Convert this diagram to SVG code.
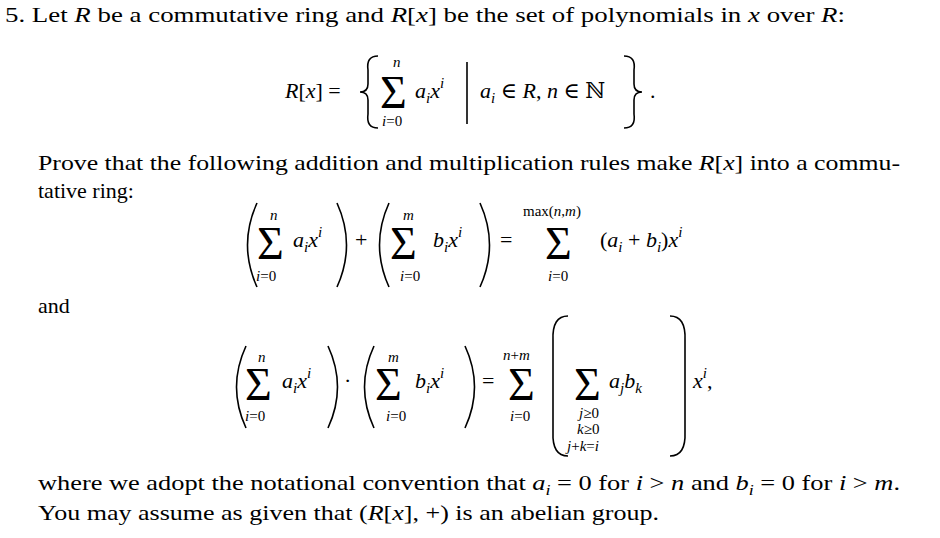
<svg xmlns="http://www.w3.org/2000/svg" width="940" height="538" viewBox="0 0 940 538">
<style>
text{font-family:"Liberation Serif","DejaVu Serif",serif;fill:#000;font-size:22px}
.i{font-style:italic}
.s{font-size:15px}
text.sg{font-size:46px}
.p{fill:none;stroke:#000;stroke-width:1.6}
</style>
<rect width="940" height="538" fill="#fff"/>
<text x="5" y="22" textLength="840" lengthAdjust="spacingAndGlyphs">5. Let <tspan class="i">R</tspan> be a commutative ring and <tspan class="i">R</tspan>[<tspan class="i">x</tspan>] be the set of polynomials in <tspan class="i">x</tspan> over <tspan class="i">R</tspan>:</text>
<g id="eq1">
<text x="285" y="98"><tspan class="i">R</tspan>[<tspan class="i">x</tspan>] =</text>
<path class="p" d="M378,56 Q366,56 368,70 L368,84 Q368,92 360,92 Q368,92 368,100 L368,114 Q366,128 378,128"/>
<text class="sg" x="380" y="108">Σ</text>
<text class="s i" x="393" y="67">n</text>
<text class="s" x="382" y="126"><tspan class="i">i</tspan>=0</text>
<text x="415" y="98"><tspan class="i">a<tspan class="s" dy="5">i</tspan><tspan dy="-5">x</tspan><tspan class="s" dy="-10">i</tspan></tspan></text>
<line class="p" x1="467" y1="62" x2="467" y2="124"/>
<text x="480" y="98"><tspan class="i">a</tspan><tspan class="s i" dy="5">i</tspan><tspan dy="-5"> ∈ </tspan><tspan class="i">R</tspan>,  <tspan class="i">n</tspan> ∈ ℕ</text>
<path class="p" d="M624,56 Q636,56 634,70 L634,84 Q634,92 642,92 Q634,92 634,100 L634,114 Q636,128 624,128"/>
<text x="650" y="98">.</text>
</g>
<text x="38" y="170" textLength="862" lengthAdjust="spacingAndGlyphs">Prove that the following addition and multiplication rules make <tspan class="i">R</tspan>[<tspan class="i">x</tspan>] into a commu-</text>
<text x="38" y="198">tative ring:</text>
<g id="eq2">
<path class="p" d="M257,203 Q238,245 257,287"/>
<text class="sg" x="257" y="259">Σ</text>
<text class="s i" x="270" y="220">n</text>
<text class="s" x="256" y="281"><tspan class="i">i</tspan>=0</text>
<text class="i" x="293" y="247">a<tspan class="s" dy="5">i</tspan><tspan dy="-5">x</tspan><tspan class="s" dy="-10">i</tspan></text>
<path class="p" d="M337,203 Q356,245 337,287"/>
<text x="355" y="247">+</text>
<path class="p" d="M389,203 Q370,245 389,287"/>
<text class="sg" x="390" y="259">Σ</text>
<text class="s i" x="403" y="220">m</text>
<text class="s" x="400" y="281"><tspan class="i">i</tspan>=0</text>
<text class="i" x="433" y="247">b<tspan class="s" dy="5">i</tspan><tspan dy="-5">x</tspan><tspan class="s" dy="-10">i</tspan></text>
<path class="p" d="M480,203 Q499,245 480,287"/>
<text x="500" y="247">=</text>
<text class="s" x="523" y="216">max(<tspan class="i">n</tspan>,<tspan class="i">m</tspan>)</text>
<text class="sg" x="545" y="259">Σ</text>
<text class="s" x="548" y="281"><tspan class="i">i</tspan>=0</text>
<text x="600" y="247">(<tspan class="i">a</tspan><tspan class="s i" dy="5">i</tspan><tspan dy="-5"> + </tspan><tspan class="i">b</tspan><tspan class="s i" dy="5">i</tspan><tspan dy="-5">)</tspan><tspan class="i">x</tspan><tspan class="s i" dy="-10">i</tspan></text>
</g>
<text x="38" y="313">and</text>
<g id="eq3">
<path class="p" d="M246,346 Q227,387 246,428"/>
<text class="sg" x="245" y="400">Σ</text>
<text class="s i" x="258" y="362">n</text>
<text class="s" x="245" y="421"><tspan class="i">i</tspan>=0</text>
<text class="i" x="282" y="388">a<tspan class="s" dy="5">i</tspan><tspan dy="-5">x</tspan><tspan class="s" dy="-10">i</tspan></text>
<path class="p" d="M328,346 Q347,387 328,428"/>
<text x="344" y="388">·</text>
<path class="p" d="M374,346 Q355,387 374,428"/>
<text class="sg" x="375" y="400">Σ</text>
<text class="s i" x="388" y="362">m</text>
<text class="s" x="386" y="421"><tspan class="i">i</tspan>=0</text>
<text class="i" x="415" y="388">b<tspan class="s" dy="5">i</tspan><tspan dy="-5">x</tspan><tspan class="s" dy="-10">i</tspan></text>
<path class="p" d="M465,346 Q484,387 465,428"/>
<text x="482" y="388">=</text>
<text class="s" x="503" y="360"><tspan class="i">n</tspan>+<tspan class="i">m</tspan></text>
<text class="sg" x="508" y="400">Σ</text>
<text class="s" x="510" y="421"><tspan class="i">i</tspan>=0</text>
<path class="p" d="M568,316 Q552,316 553,340 L553,432 Q552,456 568,456"/>
<text class="sg" x="574" y="400">Σ</text>
<text class="s" x="579" y="418"><tspan class="i">j</tspan>≥0</text>
<text class="s" x="577" y="434"><tspan class="i">k</tspan>≥0</text>
<text class="s" x="567" y="451"><tspan class="i">j</tspan>+<tspan class="i">k</tspan>=<tspan class="i">i</tspan></text>
<text class="i" x="609" y="388">a<tspan class="s" dy="5">j</tspan><tspan dy="-5">b</tspan><tspan class="s" dy="5">k</tspan></text>
<path class="p" d="M670,316 Q686,316 685,340 L685,432 Q686,456 670,456"/>
<text x="693" y="388"><tspan class="i">x</tspan><tspan class="s i" dy="-10">i</tspan><tspan dy="10">,</tspan></text>
</g>
<text x="38" y="490" textLength="862" lengthAdjust="spacingAndGlyphs">where we adopt the notational convention that <tspan class="i">a</tspan><tspan class="s i" dy="5">i</tspan><tspan dy="-5"> = 0 for </tspan><tspan class="i">i</tspan> &gt; <tspan class="i">n</tspan> and <tspan class="i">b</tspan><tspan class="s i" dy="5">i</tspan><tspan dy="-5"> = 0 for </tspan><tspan class="i">i</tspan> &gt; <tspan class="i">m</tspan>.</text>
<text x="38" y="520" textLength="621" lengthAdjust="spacingAndGlyphs">You may assume as given that (<tspan class="i">R</tspan>[<tspan class="i">x</tspan>], +) is an abelian group.</text>
</svg>
